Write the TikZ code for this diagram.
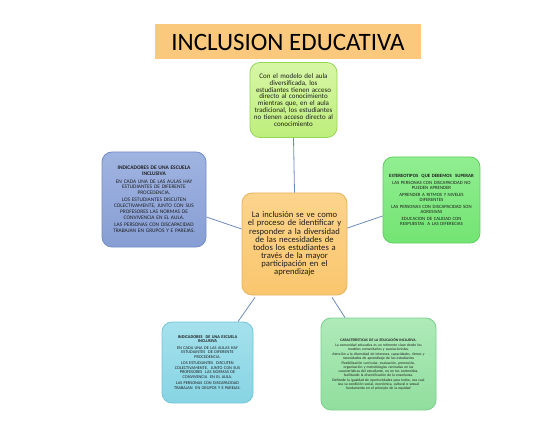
\documentclass[tikz,border=0pt]{standalone}
\usepackage{fontspec}
\setmainfont{Carlito}
\definecolor{titlec}{RGB}{250,201,125}
\definecolor{topc}{RGB}{190,238,125}
\definecolor{topl}{RGB}{215,246,165}
\definecolor{topd}{RGB}{150,215,90}
\definecolor{leftc}{RGB}{135,158,212}
\definecolor{leftl}{RGB}{160,180,225}
\definecolor{leftd}{RGB}{115,140,200}
\definecolor{rightc}{RGB}{115,228,115}
\definecolor{rightl}{RGB}{145,238,145}
\definecolor{rightd}{RGB}{90,210,90}
\definecolor{centc}{RGB}{250,198,110}
\definecolor{centl}{RGB}{252,212,140}
\definecolor{centd}{RGB}{232,178,95}
\definecolor{blc}{RGB}{135,212,228}
\definecolor{bll}{RGB}{165,225,236}
\definecolor{bld}{RGB}{115,198,218}
\definecolor{brc}{RGB}{145,222,158}
\definecolor{brl}{RGB}{175,234,185}
\definecolor{brd}{RGB}{120,208,140}
\definecolor{connc}{RGB}{110,140,185}
\definecolor{txt}{RGB}{30,30,30}
\begin{document}
\begin{tikzpicture}[x=1pt,y=-1pt,
  box/.style={rounded corners=10pt, draw, line width=0.8pt, inner sep=0pt, align=center, text=txt},
  conn/.style={draw=connc, line width=0.8pt}]
\useasboundingbox (0,0) rectangle (560,433);
\fill[white] (0,0) rectangle (560,433);

\node[fill=titlec, minimum width=266pt, minimum height=35pt, inner sep=0pt,
  font=\fontsize{25}{30}\selectfont] (title) at (288,42) {INCLUSION EDUCATIVA};

\node[box, draw=topd, top color=topl, bottom color=topc, minimum width=87pt, minimum height=75pt,
  text width=85pt, font=\fontsize{7.0}{6.9}\selectfont] (top) at (293.5,100)
  {Con el modelo del aula\\ diversificada, los\\ estudiantes tienen acceso\\ directo al conocimiento\\ mientras que, en el aula\\ tradicional, los estudiantes\\ no tienen acceso directo al\\ conocimiento};

\node[box, draw=leftd, top color=leftl, bottom color=leftc, minimum width=104pt, minimum height=95pt,
  text width=100pt, font=\fontsize{5.4}{5.8}\selectfont] (left) at (154,199.5)
  {\textbf{INDICADORES DE UNA ESCUELA}\\ \textbf{INCLUSIVA}\\[1.5pt]
   EN CADA UNA DE LAS AULAS HAY\\ ESTUDIANTES DE DIFERENTE\\ PROCEDENCIA.\\[1.5pt]
   LOS ESTUDIANTES DISCUTEN\\ COLECTIVAMENTE, JUNTO CON SUS\\ PROFESORES LAS NORMAS DE\\ CONVIVENCIA EN EL AULA.\\[1.5pt]
   LAS PERSONAS CON DISCAPACIDAD\\ TRABAJAN EN GRUPOS Y E PAREJAS.};

\node[box, draw=rightd, top color=rightl, bottom color=rightc, minimum width=97pt, minimum height=86pt,
  text width=93pt, font=\fontsize{4.8}{4.7}\selectfont] (right) at (431.5,200)
  {\textbf{ESTEREOTIPOS\ \ QUE DEBEMOS\ \ SUPERAR}\\[2.5pt]
   LAS PERSONAS CON DISCAPACIDAD NO\\ PUEDEN APRENDER\\[2.5pt]
   APRENDER A RITMOS Y NIVELES\\ DIFERENTES\\[2.5pt]
   LAS PERSONAS CON DISCAPACIDAD SON\\ AGRESIVAS\\[2.5pt]
   EDUCACION DE CALIDAD CON\\ RESPUESTAS\ \ A LAS DIFERECIAS};

\node[box, draw=centd, top color=centl, bottom color=centc, minimum width=105pt, minimum height=102pt,
  text width=103pt, font=\fontsize{8.6}{8.1}\selectfont] (center) at (294.5,244)
  {La inclusión se ve como\\ el proceso de identificar y\\ responder a la diversidad\\ de las necesidades de\\ todos los estudiantes a\\ través de la mayor\\ participación en el\\ aprendizaje};

\node[box, draw=bld, top color=bll, bottom color=blc, minimum width=91pt, minimum height=81pt,
  text width=88pt, font=\fontsize{4.3}{4.5}\selectfont] (bl) at (207.5,362.5)
  {\textbf{INDICADORES\ \ DE UNA ESCUELA}\\ \textbf{INCLUSIVA}\\[2pt]
   EN CADA UNA DE LAS AULAS HAY\\ ESTUDIANTES\ \ DE DIFERENTE\\ PROCEDENCIA.\\[2pt]
   LOS ESTUDIANTES\ \ DISCUTEN\\ COLECTIVAMENTE,\ \ JUNTO CON SUS\\ PROFESORES\ \ LAS NORMAS DE\\ CONVIVENCIA\ \ EN EL AULA.\\[2pt]
   LAS PERSONAS CON DISCAPACIDAD\\ TRABAJAN\ \ EN GRUPOS Y E PAREJAS.};

\node[box, draw=brd, top color=brl, bottom color=brc, minimum width=115pt, minimum height=92pt,
  text width=112pt, font=\fontsize{3.7}{3.8}\selectfont] (br) at (378.5,364)
  {\textbf{CARACTERÍSTICAS DE LA EDUCACIÓN INCLUSIVA.}\\[1.5pt]
   La comunidad educativa es un referente clave desde los\\ modelos comunitarios y asociacionistas.\\[1.5pt]
   Atención a la diversidad de intereses, capacidades, ritmos y\\ necesidades de aprendizaje de los estudiantes\\[1.5pt]
   Flexibilización curricular, evaluación, promoción,\\ organización y metodologías centradas en las\\ características del estudiante, no en los contenidos,\\ facilitando la diversificación de la enseñanza.\\[1.5pt]
   Defiende la igualdad de oportunidades para todos, sea cual\\ sea su condición social, económica, cultural o sexual\\ fundamento en el principio de la equidad};

\draw[conn] (center.north) -- (top.south);
\draw[conn] ([yshift=15pt]center.west) -- ([yshift=-17.5pt]left.east);
\draw[conn] ([yshift=16pt]center.east) -- ([yshift=-16pt]right.west);
\draw[conn] ([xshift=-39.5pt,yshift=-2pt]center.south) -- ([xshift=30.5pt]bl.north);
\draw[conn] ([xshift=37.5pt,yshift=-2pt]center.south) -- ([xshift=-33.5pt]br.north);
\end{tikzpicture}
\end{document}
